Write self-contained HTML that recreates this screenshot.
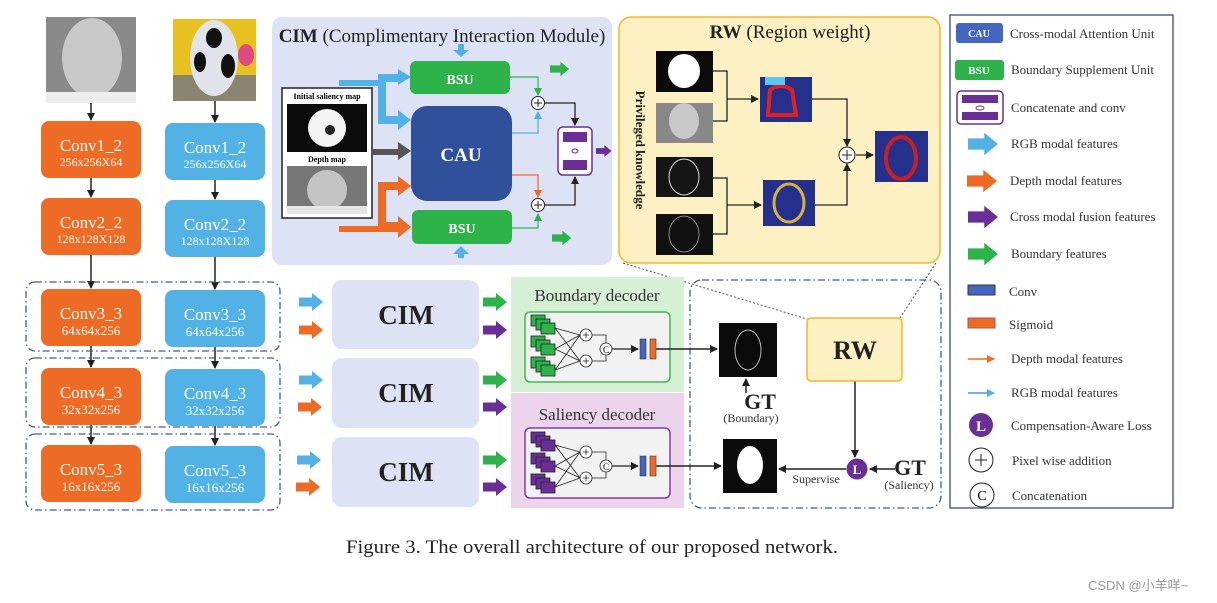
<!DOCTYPE html>
<html><head><meta charset="utf-8"><style>
html,body{margin:0;padding:0;background:#fff;}
svg{display:block;font-family:"Liberation Serif",serif;}
</style></head><body>
<svg width="1217" height="603" viewBox="0 0 1217 603" xmlns="http://www.w3.org/2000/svg">
<defs>
<path id="fa" d="M0,-4.5 H13 V-9 L24,0 L13,9 V4.5 H0 Z"/>
<marker id="ah" markerWidth="8" markerHeight="8" refX="7" refY="4" orient="auto" markerUnits="userSpaceOnUse"><path d="M0,0 L8,4 L0,8 Z" fill="#222"/></marker>
<marker id="ahg" markerWidth="8" markerHeight="8" refX="7" refY="4" orient="auto" markerUnits="userSpaceOnUse"><path d="M0,0 L8,4 L0,8 Z" fill="#2eb24a"/></marker>
<marker id="ahb" markerWidth="8" markerHeight="8" refX="7" refY="4" orient="auto" markerUnits="userSpaceOnUse"><path d="M0,0 L8,4 L0,8 Z" fill="#4fb0e6"/></marker>
<marker id="aho" markerWidth="8" markerHeight="8" refX="7" refY="4" orient="auto" markerUnits="userSpaceOnUse"><path d="M0,0 L8,4 L0,8 Z" fill="#ee6b25"/></marker>
</defs>

<!-- input images -->
<rect x="46" y="17" width="90" height="86" fill="#8a8a8a"/>
<ellipse cx="92" cy="58" rx="30" ry="40" fill="#c8c8c8"/>
<rect x="46" y="92" width="90" height="11" fill="#eee"/>
<rect x="173" y="19" width="83" height="82" fill="#e8c020"/>
<rect x="173" y="75" width="83" height="26" fill="#8a8470"/>
<ellipse cx="214" cy="58" rx="24" ry="38" fill="#e0e4ea"/>
<ellipse cx="214" cy="38" rx="8" ry="10" fill="#111"/>
<ellipse cx="228" cy="66" rx="7" ry="12" fill="#111"/>
<ellipse cx="200" cy="62" rx="6" ry="10" fill="#111"/>
<ellipse cx="246" cy="55" rx="8" ry="11" fill="#e04880"/>

<!-- encoder -->
<g fill="#ee6b25">
<rect x="41" y="121" width="100" height="57" rx="8"/>
<rect x="41" y="198" width="100" height="57" rx="8"/>
<rect x="41" y="289" width="100" height="57" rx="8"/>
<rect x="41" y="368" width="100" height="57" rx="8"/>
<rect x="41" y="445" width="100" height="57" rx="8"/>
</g>
<g fill="#52b2e6">
<rect x="165" y="123" width="100" height="57" rx="8"/>
<rect x="165" y="200" width="100" height="57" rx="8"/>
<rect x="165" y="290" width="100" height="57" rx="8"/>
<rect x="165" y="369" width="100" height="57" rx="8"/>
<rect x="165" y="446" width="100" height="57" rx="8"/>
</g>
<g fill="#fff" text-anchor="middle">
<text x="91" y="151" font-size="17">Conv1_2</text><text x="91" y="166" font-size="12">256x256X64</text>
<text x="91" y="228" font-size="17">Conv2_2</text><text x="91" y="243" font-size="12">128x128X128</text>
<text x="91" y="319" font-size="17">Conv3_3</text><text x="91" y="335" font-size="13">64x64x256</text>
<text x="91" y="398" font-size="17">Conv4_3</text><text x="91" y="414" font-size="13">32x32x256</text>
<text x="91" y="475" font-size="17">Conv5_3</text><text x="91" y="491" font-size="13">16x16x256</text>
<text x="215" y="153" font-size="17">Conv1_2</text><text x="215" y="168" font-size="12">256x256X64</text>
<text x="215" y="230" font-size="17">Conv2_2</text><text x="215" y="245" font-size="12">128x128X128</text>
<text x="215" y="320" font-size="17">Conv3_3</text><text x="215" y="336" font-size="13">64x64x256</text>
<text x="215" y="399" font-size="17">Conv4_3</text><text x="215" y="415" font-size="13">32x32x256</text>
<text x="215" y="476" font-size="17">Conv5_3</text><text x="215" y="492" font-size="13">16x16x256</text>
</g>
<g stroke="#222" stroke-width="1.5" marker-end="url(#ah)">
<line x1="91" y1="103" x2="91" y2="120"/><line x1="91" y1="178" x2="91" y2="197"/><line x1="91" y1="255" x2="91" y2="288"/><line x1="91" y1="346" x2="91" y2="367"/><line x1="91" y1="425" x2="91" y2="444"/>
<line x1="215" y1="101" x2="215" y2="122"/><line x1="215" y1="180" x2="215" y2="199"/><line x1="215" y1="257" x2="215" y2="289"/><line x1="215" y1="347" x2="215" y2="368"/><line x1="215" y1="426" x2="215" y2="445"/>
</g>
<g fill="none" stroke="#3d5aa0" stroke-width="1.3" stroke-dasharray="7,3,1.5,3">
<rect x="26" y="282" width="254" height="69" rx="9"/>
<rect x="26" y="358" width="254" height="69" rx="9"/>
<rect x="26" y="434" width="254" height="76" rx="9"/>
<rect x="690" y="280" width="251" height="228" rx="12"/>
</g>

<!-- CIM panel -->
<rect x="272" y="17" width="340" height="248" rx="10" fill="#dde3f5"/>
<text x="442" y="42" font-size="19" text-anchor="middle" fill="#222"><tspan font-weight="bold">CIM</tspan> (Complimentary Interaction Module)</text>
<rect x="282" y="88" width="90" height="130" fill="#fff" stroke="#222" stroke-width="1.5"/>
<text x="327" y="99" font-size="8" font-weight="bold" text-anchor="middle">Initial saliency map</text>
<rect x="287" y="104" width="80" height="48" fill="#0b0b0b"/>
<circle cx="327" cy="128" r="19" fill="#f4f4f4"/><circle cx="330" cy="130" r="5" fill="#222"/>
<text x="327" y="162" font-size="8" font-weight="bold" text-anchor="middle">Depth map</text>
<rect x="287" y="166" width="80" height="48" fill="#777"/>
<circle cx="327" cy="190" r="20" fill="#c4c4c4"/>
<rect x="287" y="206" width="80" height="8" fill="#e6e6e6"/>
<!-- big arrows -->
<path d="M339,80 H378 V74 H398 V80 V69 L411,77 L398,85 V82 H386 V116 H398 V110 L411,120 L398,130 V124 H378 V86 H339 Z" fill="#52b2e6"/>
<path d="M372,149 H398 V142 L411,151 L398,160 V155 H372 Z" fill="#555"/>
<path d="M339,226 H378 V182 H398 V176 L411,186 L398,196 V190 H386 V222 H398 V216 L411,227 L398,238 V232 H339 Z" fill="#ee6b25"/>
<path d="M458,44 H464 V50 H469 L461,57 L453,50 H458 Z" fill="#52b2e6"/>
<path d="M458,258 H464 V254 H469 L461,246 L453,254 H458 Z" fill="#52b2e6"/>
<rect x="410" y="61" width="100" height="33" rx="6" fill="#2eb24a"/>
<rect x="411" y="106" width="101" height="95" rx="16" fill="#30509c"/>
<rect x="412" y="210" width="100" height="34" rx="6" fill="#2eb24a"/>
<text x="460" y="84" font-size="14" font-weight="bold" fill="#fff" text-anchor="middle">BSU</text>
<text x="461" y="161" font-size="19" font-weight="bold" fill="#fff" text-anchor="middle">CAU</text>
<text x="462" y="233" font-size="14" font-weight="bold" fill="#fff" text-anchor="middle">BSU</text>
<polyline points="510,77 538,77 538,95" fill="none" stroke="#2eb24a" stroke-width="1.2" marker-end="url(#ahg)"/>
<polyline points="512,133 538,133 538,112" fill="none" stroke="#4fb0e6" stroke-width="1.2" marker-end="url(#ahb)"/>
<polyline points="512,175 538,175 538,197" fill="none" stroke="#ee6b25" stroke-width="1.2" marker-end="url(#aho)"/>
<polyline points="512,228 538,228 538,214" fill="none" stroke="#2eb24a" stroke-width="1.2" marker-end="url(#ahg)"/>
<g fill="#fff" stroke="#222" stroke-width="1"><circle cx="538" cy="103" r="6.5"/><circle cx="538" cy="205" r="6.5"/></g>
<g stroke="#222" stroke-width="1"><path d="M534,103h8M538,99v8M534,205h8M538,201v8"/></g>
<g fill="none" stroke="#222" stroke-width="1.3">
<polyline points="545,103 575,103 575,125" marker-end="url(#ah)"/>
<polyline points="545,205 575,205 575,177" marker-end="url(#ah)"/>
</g>
<rect x="558" y="127" width="34" height="48" rx="5" fill="#fff" stroke="#6a2f96" stroke-width="1.5"/>
<rect x="563" y="132" width="24" height="10" fill="#6a2f96"/><rect x="563" y="160" width="24" height="10" fill="#6a2f96"/>
<ellipse cx="575" cy="151" rx="3" ry="2" fill="none" stroke="#6a2f96"/>
<use href="#fa" transform="translate(596,151) scale(0.65)" fill="#6a2f96"/>
<use href="#fa" transform="translate(550,69) scale(0.8)" fill="#2eb24a"/>
<use href="#fa" transform="translate(552,238) scale(0.8)" fill="#2eb24a"/>

<!-- RW panel -->
<rect x="619" y="17" width="321" height="246" rx="12" fill="#fdf0c2" stroke="#f2b630" stroke-width="1.5"/>
<text x="790" y="38" font-size="19" text-anchor="middle" fill="#222"><tspan font-weight="bold">RW</tspan> (Region weight)</text>
<text transform="translate(636,150) rotate(90)" font-size="13" font-weight="bold" text-anchor="middle" fill="#222">Privileged knowledge</text>
<rect x="656" y="51" width="57" height="41" fill="#0b0b0b"/><ellipse cx="684" cy="71" rx="16" ry="17" fill="#fff"/>
<rect x="656" y="103" width="57" height="40" fill="#888"/><ellipse cx="684" cy="121" rx="15" ry="18" fill="#c8c8c8"/>
<rect x="656" y="157" width="57" height="40" fill="#151515"/><ellipse cx="684" cy="177" rx="15" ry="18" fill="none" stroke="#ddd"/>
<rect x="656" y="214" width="57" height="41" fill="#111"/><ellipse cx="684" cy="234" rx="15" ry="18" fill="none" stroke="#aaa" stroke-width="0.8"/>
<g fill="none" stroke="#222" stroke-width="1.3">
<polyline points="713,71 727,71 727,121 713,121"/><line x1="727" y1="99" x2="758" y2="99" marker-end="url(#ah)"/>
<polyline points="713,178 727,178 727,234 713,234"/><line x1="727" y1="205" x2="761" y2="205" marker-end="url(#ah)"/>
<polyline points="812,99 847,99 847,146" marker-end="url(#ah)"/>
<polyline points="815,205 847,205 847,164" marker-end="url(#ah)"/>
<line x1="856" y1="155" x2="873" y2="155" marker-end="url(#ah)"/>
</g>
<circle cx="847" cy="155" r="8" fill="#fff" stroke="#222"/><path d="M842,155h10M847,150v10" stroke="#222"/>
<rect x="760" y="77" width="52" height="45" fill="#24308c"/>
<path d="M770,90 q10,-8 22,0 l4,25 h-28 z" fill="none" stroke="#e02020" stroke-width="4"/><rect x="765" y="77" width="20" height="8" fill="#5cc8f0"/>
<rect x="763" y="180" width="52" height="46" fill="#24308c"/>
<ellipse cx="789" cy="203" rx="15" ry="19" fill="none" stroke="#d8b040" stroke-width="3"/>
<rect x="875" y="131" width="53" height="51" fill="#24308c"/>
<ellipse cx="901" cy="158" rx="15" ry="21" fill="none" stroke="#c82020" stroke-width="4"/>

<!-- dotted connectors -->
<line x1="623" y1="263" x2="810" y2="320" stroke="#555" stroke-dasharray="2,2"/>
<line x1="936" y1="263" x2="900" y2="318" stroke="#555" stroke-dasharray="2,2"/>

<!-- CIM row -->
<g fill="#dde3f5">
<rect x="332" y="280" width="147" height="69" rx="10"/>
<rect x="332" y="358" width="147" height="70" rx="10"/>
<rect x="332" y="437" width="147" height="70" rx="10"/>
</g>
<g font-size="27" font-weight="bold" text-anchor="middle" fill="#222">
<text x="406" y="324">CIM</text><text x="406" y="402">CIM</text><text x="406" y="481">CIM</text>
</g>
<g fill="#52b2e6"><use href="#fa" transform="translate(299,302)"/><use href="#fa" transform="translate(299,380)"/><use href="#fa" transform="translate(297,460)"/></g>
<g fill="#ee6b25"><use href="#fa" transform="translate(299,330)"/><use href="#fa" transform="translate(298,407)"/><use href="#fa" transform="translate(296,487)"/></g>
<g fill="#2eb24a"><use href="#fa" transform="translate(483,302)"/><use href="#fa" transform="translate(483,380)"/><use href="#fa" transform="translate(483,460)"/></g>
<g fill="#6a2f96"><use href="#fa" transform="translate(483,330)"/><use href="#fa" transform="translate(483,407)"/><use href="#fa" transform="translate(483,487)"/></g>

<!-- decoders -->
<rect x="511" y="277" width="173" height="115" fill="#d6f0d5"/>
<rect x="511" y="393" width="173" height="115" fill="#ecd5ec"/>
<text x="597" y="301" font-size="17" text-anchor="middle" fill="#333">Boundary decoder</text>
<text x="597" y="420" font-size="17" text-anchor="middle" fill="#333">Saliency decoder</text>
<rect x="525" y="312" width="145" height="70" rx="5" fill="#f2f2f2" stroke="#3cba4a" stroke-width="1.5"/>
<rect x="525" y="428" width="145" height="70" rx="5" fill="#f2f2f2" stroke="#7a40a8" stroke-width="1.5"/>
<g stroke="#222" stroke-width="0.8">
<g fill="#2eb24a">
<rect x="531" y="315" width="14" height="11"/><rect x="536" y="319" width="14" height="11"/><rect x="541" y="323" width="14" height="11"/>
<rect x="531" y="336" width="14" height="11"/><rect x="536" y="340" width="14" height="11"/><rect x="541" y="344" width="14" height="11"/>
<rect x="531" y="357" width="14" height="11"/><rect x="536" y="361" width="14" height="11"/><rect x="541" y="365" width="14" height="11"/>
</g>
<g fill="#6a2f96">
<rect x="531" y="432" width="14" height="11"/><rect x="536" y="436" width="14" height="11"/><rect x="541" y="440" width="14" height="11"/>
<rect x="531" y="453" width="14" height="11"/><rect x="536" y="457" width="14" height="11"/><rect x="541" y="461" width="14" height="11"/>
<rect x="531" y="474" width="14" height="11"/><rect x="536" y="478" width="14" height="11"/><rect x="541" y="482" width="14" height="11"/>
</g>
<g fill="none">
<path d="M555,328 L580,335 M555,328 L580,361 M555,349 L580,335 M555,349 L580,361 M555,370 L580,335 M555,370 L580,361 M592,335 H606 V343 M592,361 H606 V355"/>
<path d="M555,445 L580,452 M555,445 L580,478 M555,466 L580,452 M555,466 L580,478 M555,487 L580,452 M555,487 L580,478 M592,452 H606 V460 M592,478 H606 V472"/>
</g>
<g fill="#fff"><circle cx="586" cy="335" r="6"/><circle cx="586" cy="361" r="6"/><circle cx="606" cy="349" r="6"/>
<circle cx="586" cy="452" r="6"/><circle cx="586" cy="478" r="6"/><circle cx="606" cy="466" r="6"/></g>
<path d="M583,335h6M586,332v6M583,361h6M586,358v6M583,452h6M586,449v6M583,478h6M586,475v6"/>
</g>
<text x="606" y="353" font-size="9" text-anchor="middle">C</text><text x="606" y="470" font-size="9" text-anchor="middle">C</text>
<line x1="612" y1="349" x2="638" y2="349" stroke="#222" stroke-width="1.3" marker-end="url(#ah)"/>
<line x1="612" y1="466" x2="638" y2="466" stroke="#222" stroke-width="1.3" marker-end="url(#ah)"/>
<rect x="640" y="339" width="6" height="20" fill="#4466c0" stroke="#223"  stroke-width="0.5"/><rect x="650" y="339" width="6" height="20" fill="#ee6b25" stroke="#223" stroke-width="0.5"/>
<rect x="640" y="456" width="6" height="20" fill="#4466c0" stroke="#223" stroke-width="0.5"/><rect x="650" y="456" width="6" height="20" fill="#ee6b25" stroke="#223" stroke-width="0.5"/>

<!-- right group -->
<rect x="719" y="323" width="58" height="54" fill="#0b0b0b"/><ellipse cx="748" cy="350" rx="13" ry="20" fill="none" stroke="#bbb"/>
<rect x="723" y="439" width="54" height="54" fill="#0b0b0b"/><ellipse cx="750" cy="465" rx="13" ry="19" fill="#fff"/>
<g stroke="#222" stroke-width="1.5" fill="none">
<line x1="656" y1="349" x2="717" y2="349" marker-end="url(#ah)"/>
<line x1="656" y1="466" x2="721" y2="466" marker-end="url(#ah)"/>
<line x1="746" y1="393" x2="746" y2="379" marker-end="url(#ah)"/>
<line x1="855" y1="381" x2="855" y2="457" marker-end="url(#ah)"/>
<line x1="846" y1="469" x2="779" y2="469" marker-end="url(#ah)"/>
<line x1="895" y1="469" x2="870" y2="469" marker-end="url(#ah)"/>
</g>
<rect x="807" y="318" width="95" height="63" rx="4" fill="#fdf0c2" stroke="#f2b630" stroke-width="1.5"/>
<text x="855" y="359" font-size="26" font-weight="bold" text-anchor="middle" fill="#222">RW</text>
<text x="760" y="409" font-size="22" font-weight="bold" text-anchor="middle" fill="#222">GT</text>
<text x="751" y="422" font-size="12" text-anchor="middle" fill="#333">(Boundary)</text>
<circle cx="857" cy="469" r="10.5" fill="#6a2f96"/>
<text x="857" y="474" font-size="13" font-weight="bold" fill="#fff" text-anchor="middle">L</text>
<text x="910" y="475" font-size="22" font-weight="bold" text-anchor="middle" fill="#222">GT</text>
<text x="909" y="489" font-size="12" text-anchor="middle" fill="#333">(Saliency)</text>
<text x="816" y="483" font-size="12" text-anchor="middle" fill="#333">Supervise</text>

<!-- legend -->
<rect x="950" y="15" width="223" height="493" fill="#fff" stroke="#3a4a8a" stroke-width="1.3"/>
<rect x="956" y="23" width="47" height="20" rx="3" fill="#4466c0"/>
<text x="979" y="37" font-size="10" font-weight="bold" fill="#fff" text-anchor="middle">CAU</text>
<rect x="955" y="60" width="49" height="20" rx="3" fill="#2eb24a"/>
<text x="979" y="74" font-size="11" font-weight="bold" fill="#fff" text-anchor="middle">BSU</text>
<rect x="957" y="91" width="46" height="33" rx="4" fill="#fff" stroke="#6a2f96" stroke-width="1.5"/>
<rect x="962" y="95" width="36" height="8" fill="#6a2f96"/><rect x="962" y="112" width="36" height="8" fill="#6a2f96"/>
<ellipse cx="980" cy="108" rx="4" ry="2" fill="none" stroke="#6a2f96"/>
<use href="#fa" transform="translate(968,144) scale(1.25)" fill="#52b2e6"/>
<use href="#fa" transform="translate(967,181) scale(1.25)" fill="#ee6b25"/>
<use href="#fa" transform="translate(968,217) scale(1.25)" fill="#6a2f96"/>
<use href="#fa" transform="translate(968,254) scale(1.25)" fill="#2eb24a"/>
<rect x="968" y="285" width="27" height="10" fill="#4466c0" stroke="#334"/>
<rect x="968" y="318" width="27" height="10" fill="#ee6b25" stroke="#a55"/>
<line x1="968" y1="359" x2="994" y2="359" stroke="#ee6b25" stroke-width="1.5" marker-end="url(#aho)"/>
<line x1="968" y1="393" x2="994" y2="393" stroke="#4f90e0" stroke-width="1.5" marker-end="url(#ahb)"/>
<circle cx="981" cy="425" r="12" fill="#6a2f96"/><text x="981" y="431" font-size="15" font-weight="bold" fill="#fff" text-anchor="middle">L</text>
<circle cx="981" cy="460" r="12" fill="#fff" stroke="#222"/><path d="M975,460h12M981,454v12" stroke="#222"/>
<circle cx="982" cy="495" r="12" fill="#fff" stroke="#222"/><text x="982" y="500" font-size="14" text-anchor="middle">C</text>
<g font-size="13" fill="#333">
<text x="1010" y="38">Cross-modal Attention Unit</text>
<text x="1011" y="74">Boundary Supplement Unit</text>
<text x="1011" y="112">Concatenate and conv</text>
<text x="1011" y="148">RGB  modal features</text>
<text x="1010" y="185">Depth modal features</text>
<text x="1010" y="221">Cross modal fusion features</text>
<text x="1011" y="258">Boundary features</text>
<text x="1009" y="296">Conv</text>
<text x="1009" y="329">Sigmoid</text>
<text x="1011" y="363">Depth modal features</text>
<text x="1011" y="397">RGB modal features</text>
<text x="1011" y="430">Compensation-Aware Loss</text>
<text x="1012" y="465">Pixel wise addition</text>
<text x="1012" y="500">Concatenation</text>
</g>

<text x="346" y="553" font-size="19" fill="#222" textLength="492" lengthAdjust="spacingAndGlyphs">Figure 3. The overall architecture of our proposed network.</text>
<text x="1088" y="590" font-size="13" fill="#999" font-family="'Liberation Sans','Noto Sans CJK SC',sans-serif">CSDN @小羊咩~</text>
</svg>
</body></html>
